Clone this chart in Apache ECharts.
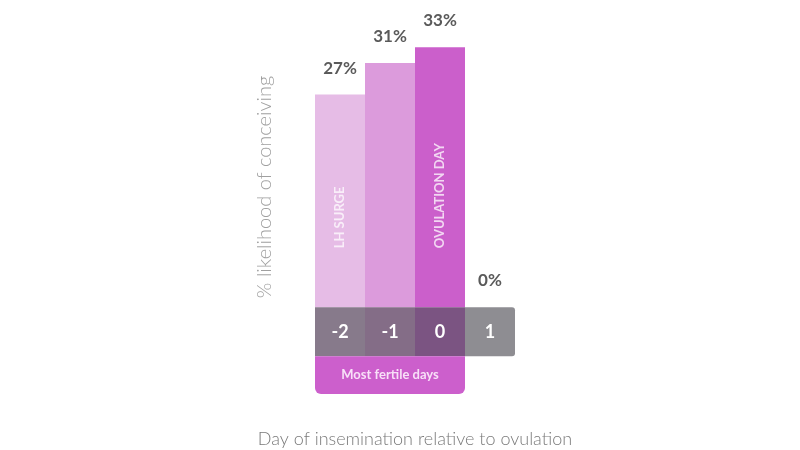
<!DOCTYPE html>
<html>
<head>
<meta charset="utf-8">
<script src="https://cdn.jsdelivr.net/npm/echarts@6/dist/echarts.min.js"></script>
<style>
html,body{margin:0;padding:0;background:#fff;}
#chart{width:800px;height:450px;}
</style>
</head>
<body>
<div id="chart"></div>
<script>
// ---- data ----
const categories = ['-2', '-1', '0', '1'];
const likelihood = [27, 31, 33, 0];
const barNotes = ['LH SURGE', '', 'OVULATION DAY', ''];
const fertileDays = ['-2', '-1', '0'];
const fertileLabel = 'Most fertile days';
const xTitle = 'Day of insemination relative to ovulation';
const yTitle = '% likelihood of conceiving';

// ---- styles ----
const barColors = ['#e6bce6', '#dc9bdc', '#cb5fcb', '#ffffff'];
const bandColors = ['#877a8b', '#846d87', '#7b5482', '#8e8d92'];
const fertileColor = '#cc5fcc';
const bandDepth = 6.2;    // axis units for the day band
const fertileDepth = 4.8; // axis units for the fertile box

const font = 'Lato, "Open Sans", sans-serif';

const chart = echarts.init(document.getElementById('chart'));

const mainData = likelihood.map((v, i) => ({
  value: v,
  itemStyle: { color: barColors[i] }
}));

const bandData = categories.map((c, i) => ({
  value: -bandDepth,
  itemStyle: {
    color: bandColors[i],
    borderRadius: i === categories.length - 1 ? [0, 3, 3, 0] : 0
  }
}));

const fertileMid = Math.floor((fertileDays.length - 1) / 2);
const fertileData = categories.map((c, i) => {
  const idx = fertileDays.indexOf(c);
  if (idx < 0) return { value: '-' };
  return {
    value: -fertileDepth,
    itemStyle: {
      color: fertileColor,
      borderRadius: idx === 0 ? [0, 0, 0, 6] : (idx === fertileDays.length - 1 ? [0, 0, 6, 0] : 0)
    },
    label: { show: idx === fertileMid }
  };
});

chart.setOption({
  animation: false,
  grid: { left: 315, right: 285, top: 0, bottom: 56, outerBoundsMode: 'none', containLabel: false },
  xAxis: {
    type: 'category',
    data: categories,
    axisLine: { show: false, onZero: false },
    axisTick: { show: false },
    axisLabel: { show: false },
    name: xTitle,
    nameLocation: 'middle',
    nameGap: 36,
    nameTextStyle: { fontFamily: font, fontSize: 18, fontWeight: 300, color: '#7a7a7a' }
  },
  yAxis: {
    type: 'value',
    min: -11,
    max: 39,
    splitLine: { show: false },
    axisLine: { show: false },
    axisTick: { show: false },
    axisLabel: { show: false },
    name: yTitle,
    nameLocation: 'middle',
    nameGap: 40,
    nameRotate: 90,
    nameTextStyle: { fontFamily: font, fontSize: 20, fontWeight: 300, color: '#a0a0a0', padding: [0, 0, 0, 20] }
  },
  series: [
    {
      type: 'bar',
      stack: 'all',
      barCategoryGap: '0%',
      barGap: '-100%',
      data: mainData,
      label: {
        show: true,
        position: 'top',
        distance: 18,
        formatter: '{c}%',
        fontFamily: font,
        fontSize: 17,
        fontWeight: 'bold',
        color: '#5a5a5a'
      }
    },
    {
      type: 'bar',
      stack: 'all',
      barCategoryGap: '0%',
      barGap: '-100%',
      data: bandData,
      label: {
        show: true,
        position: 'inside',
        formatter: '{b}',
        fontFamily: font,
        fontSize: 18,
        fontWeight: 'bold',
        color: '#ffffff'
      }
    },
    {
      type: 'bar',
      stack: 'all',
      barCategoryGap: '0%',
      barGap: '-100%',
      data: fertileData,
      label: {
        show: false,
        position: 'inside',
        formatter: fertileLabel,
        fontFamily: font,
        fontSize: 13,
        fontWeight: 'bold',
        color: '#f8e0f8'
      }
    },
    {
      type: 'bar',
      barCategoryGap: '0%',
      barGap: '-100%',
      data: likelihood,
      itemStyle: { color: 'rgba(0,0,0,0)' },
      silent: true,
      z: 5,
      label: {
        show: true,
        position: 'insideBottom',
        distance: 59,
        rotate: 90,
        align: 'left',
        verticalAlign: 'middle',
        formatter: p => barNotes[p.dataIndex],
        fontFamily: font,
        fontSize: 13,
        fontWeight: 'bold',
        color: 'rgba(255,255,255,0.75)'
      }
    }
  ]
});
</script>
</body>
</html>
